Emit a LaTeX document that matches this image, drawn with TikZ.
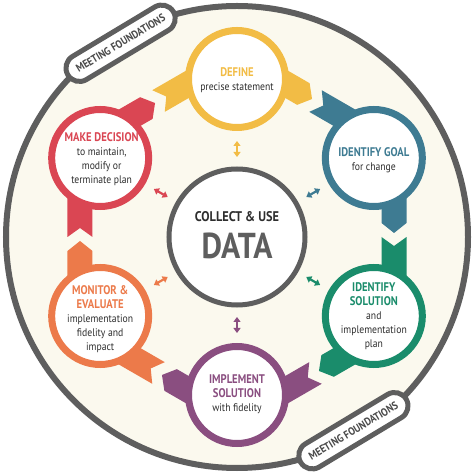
\documentclass[tikz,border=0pt]{standalone}
\usepackage{fontspec}
\setmainfont{PT Sans}
\newfontfamily\condfont[FakeStretch=0.88]{PT Sans}
\newfontfamily\titlefont[FakeStretch=0.85]{PT Sans}
\usetikzlibrary{arrows.meta}
\definecolor{cyel}{HTML}{F2BC45}
\definecolor{cteal}{HTML}{3E7B92}
\definecolor{cgreen}{HTML}{1A8C6B}
\definecolor{cpurp}{HTML}{8A4E80}
\definecolor{corange}{HTML}{EC7A4A}
\definecolor{cred}{HTML}{DA4653}
\definecolor{cring}{HTML}{5E5E5E}
\definecolor{ccream}{HTML}{FBF9EE}
\definecolor{ctext}{HTML}{2E2E2E}
\definecolor{cpilltext}{HTML}{4A4A4A}
\newcommand\tabpair[3]{%
  \begin{scope}[shift={(#1:157)}, rotate=#1-90]
    \fill[#2] (-40,-12.5) -- (-14,-12.5) -- (-4,0) -- (-14,12.5) -- (-40,12.5) -- cycle;
    \fill[#3] (40,-12.5) -- (0,-12.5) -- (9,0) -- (0,12.5) -- (40,12.5) -- cycle;
  \end{scope}}
\newcommand\ttl[2]{{\color{#1}\titlefont\bfseries\fontsize{12.5bp}{14bp}\selectfont #2}}
\tikzset{
  stepcirc/.style={circle, minimum size=97bp, line width=7bp, fill=white, inner sep=0pt},
  steptxt/.style={align=center, text=ctext, font=\condfont\fontsize{11bp}{14bp}\selectfont},
  dbl/.style={{Triangle[width=7bp,length=5bp]}-{Triangle[width=7bp,length=5bp]}, line width=2.2bp, shorten <=9.5bp, shorten >=10bp},
  pill/.style={draw=cring, fill=white, line width=5bp, rounded corners=13.5bp, minimum width=123bp, minimum height=27bp, inner sep=0pt, text=cpilltext, font=\condfont\bfseries\fontsize{11bp}{12bp}\selectfont},
}
\begin{document}
\begin{tikzpicture}[x=1bp,y=1bp]
\useasboundingbox (-237,237) rectangle (237,-238);
\fill[white] (-237,237) rectangle (237,-238);
\draw[cring, line width=6bp, fill=ccream] (0,0) circle (231);
% pills
\node[pill, rotate=31] (mf1) at (121:226) {MEETING FOUNDATIONS};
\node[pill, rotate=31] (mf2) at (-59:226) {MEETING FOUNDATIONS};
% tabs
\tabpair{60}{cyel}{cteal}
\tabpair{0}{cteal}{cgreen}
\tabpair{-60}{cgreen}{cpurp}
\tabpair{-120}{cpurp}{corange}
\tabpair{180}{corange}{cred}
\tabpair{120}{cred}{cyel}
% circles
\node[stepcirc, draw=cyel] (define) at (90:158) {};
\node[stepcirc, draw=cteal] (goal) at (30:158) {};
\node[stepcirc, draw=cgreen] (solution) at (-30:158) {};
\node[stepcirc, draw=cpurp] (implement) at (-90:158) {};
\node[stepcirc, draw=corange] (monitor) at (-150:158) {};
\node[stepcirc, draw=cred] (decision) at (150:158) {};
\node[circle, draw=cring, line width=5bp, fill=white, minimum size=136bp, inner sep=0pt] (data) at (0,0) {};
% texts
\node[steptxt] (definet) at ([yshift=-1.5]define.center) {\ttl{cyel}{DEFINE}\\precise statement};
\node[steptxt] (goalt) at ([yshift=-2]goal.center) {\ttl{cteal}{IDENTIFY GOAL}\\for change};
\node[steptxt] (solutiont) at ([yshift=0]solution.center) {\ttl{cgreen}{IDENTIFY}\\\ttl{cgreen}{SOLUTION}\\and\\implementation\\plan};
\node[steptxt] (implementt) at ([yshift=1]implement.center) {\ttl{cpurp}{IMPLEMENT}\\\ttl{cpurp}{SOLUTION}\\with fidelity};
\node[steptxt] (monitort) at ([yshift=-3]monitor.center) {\ttl{corange}{MONITOR \&}\\\ttl{corange}{EVALUATE}\\implementation\\fidelity and\\impact};
\node[steptxt] (decisiont) at ([xshift=1.5,yshift=-1]decision.center) {\ttl{cred}{MAKE DECISION}\\to maintain,\\modify or\\terminate plan};
\node[font=\condfont\bfseries\fontsize{14bp}{16bp}\selectfont, text=ctext] (collect) at (0,20) {COLLECT \& USE};
\node[font=\condfont\bfseries\fontsize{36bp}{40bp}\selectfont, text=cring] (datat) at (0,-9) {DATA};
% double arrows
\draw[dbl, cyel] (data) -- (define);
\draw[dbl, cteal] (data) -- (goal);
\draw[dbl, cgreen] (data) -- (solution);
\draw[dbl, cpurp] (data) -- (implement);
\draw[dbl, corange] (data) -- (monitor);
\draw[dbl, cred] (data) -- (decision);
\end{tikzpicture}
\end{document}
